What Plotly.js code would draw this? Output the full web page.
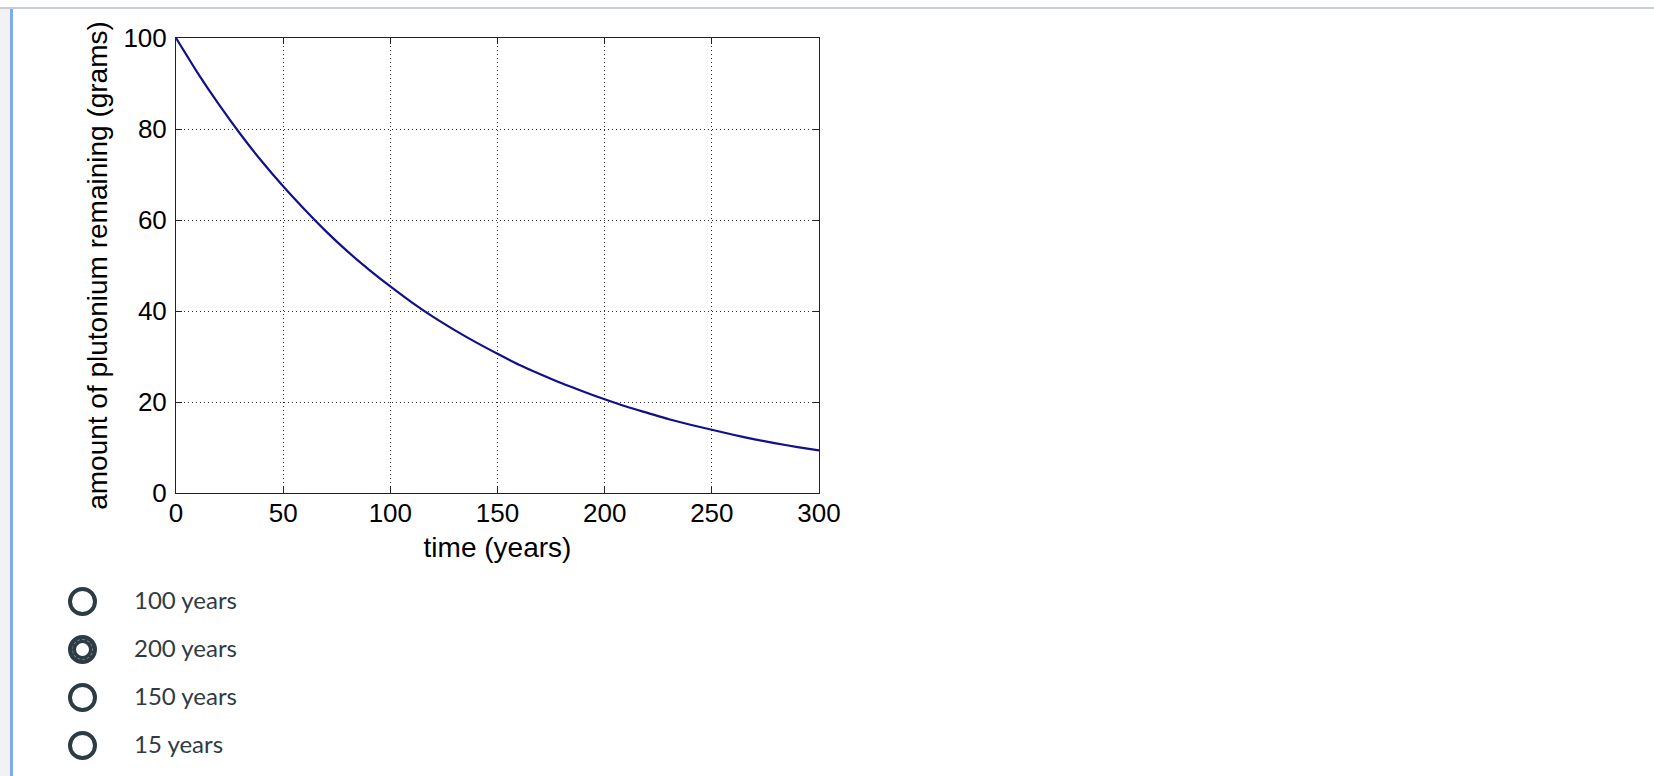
<!DOCTYPE html>
<html>
<head>
<meta charset="utf-8">
<script src="https://cdn.plot.ly/plotly-3.0.1.min.js"></script>
<style>
  html, body { margin: 0; padding: 0; background: #fff; }
  body { width: 1654px; height: 776px; position: relative; overflow: hidden; }
  #leftpanel { position: absolute; left: 0; top: 9px; width: 10px; height: 767px; background: #f2f2f2; }
  #leftline { position: absolute; left: 10px; top: 9px; width: 3px; height: 767px; background: #7fa9f2; }
  #topline { position: absolute; left: 0; top: 7px; width: 1654px; height: 2px; background: #c8cdd1; }
  #chart { position: absolute; left: 0; top: 0; width: 1654px; height: 776px; }
  .radio { position: absolute; left: 68px; width: 21px; height: 21px; border: 4px solid #2d3b45; border-radius: 50%; box-sizing: content-box; }
  .radio.sel { background: #2d3b45; }
  .radio.sel::after { content: ""; position: absolute; left: 4px; top: 4px; width: 13px; height: 13px; border-radius: 50%; background: #fff; }
  .radio.sel::before { content: ""; position: absolute; left: 0px; top: 0px; width: 19px; height: 19px; border-radius: 50%; border: 1px dashed #7d878e; }
  .lbl { position: absolute; left: 134px; font-family: Lato, "Noto Sans", sans-serif; font-size: 24px; color: #2d3b45; white-space: nowrap; }
</style>
</head>
<body>
<div id="topline"></div>
<div id="leftpanel"></div>
<div id="leftline"></div>
<div id="chart"></div>
<div id="options"></div>
<script>
// Data (years, grams remaining)
const years = [0, 10, 20, 30, 40, 50, 60, 70, 80, 90, 100, 110, 120, 130, 140, 150,
               160, 170, 180, 190, 200, 210, 220, 230, 240, 250, 260, 270, 280, 290, 300];
const grams = [100, 92.4, 85.4, 78.9, 72.9, 67.4, 62.3, 57.5, 53.1, 49.1, 45.4, 41.9, 38.7, 35.8, 33.1, 30.6,
               28.2, 26.1, 24.1, 22.3, 20.6, 19.0, 17.6, 16.2, 15.0, 13.9, 12.8, 11.8, 10.9, 10.1, 9.35];
const xTicks = [0, 50, 100, 150, 200, 250, 300];
const yTicks = [0, 20, 40, 60, 80, 100];
const xTitle = "time (years)";
const yTitle = "amount of plutonium remaining (grams)";
const answers = ["100 years", "200 years", "150 years", "15 years"];
const selectedAnswer = "200 years";

const family = '"Liberation Sans", Arial, Helvetica, sans-serif';
const tickFont = { family: family, size: 26, color: '#000' };
const titleFont = { family: family, size: 28, color: '#000' };
const axisCommon = {
  showline: true, linecolor: '#222', linewidth: 1, mirror: 'ticks',
  ticks: 'inside', ticklen: 6, tickcolor: '#222', tickwidth: 1,
  showgrid: true, gridcolor: '#333', gridwidth: 1, griddash: '1px,3px',
  zeroline: false, tickfont: tickFont, automargin: false, fixedrange: true
};

const trace = {
  x: years, y: grams, type: 'scatter', mode: 'lines',
  line: { color: '#10108a', width: 2.2, shape: 'spline', smoothing: 0.6 },
  hoverinfo: 'skip'
};

const layout = {
  width: 1654, height: 776,
  margin: { l: 176, r: 835, t: 38, b: 283, pad: 0 },
  paper_bgcolor: 'rgba(0,0,0,0)', plot_bgcolor: '#fff',
  showlegend: false,
  font: tickFont,
  xaxis: Object.assign({}, axisCommon, {
    range: [0, 300], tickvals: xTicks, ticktext: xTicks.map(String),
    ticklabelstandoff: -3,
    title: { text: xTitle, font: titleFont, standoff: 10 }
  }),
  yaxis: Object.assign({}, axisCommon, {
    range: [0, 100], tickvals: yTicks, ticktext: yTicks.map(String),
    ticklabelstandoff: 3,
    title: { text: yTitle, font: titleFont, standoff: 7 }
  })
};

Plotly.newPlot('chart', [trace], layout, { displayModeBar: false, staticPlot: true });

const opts = document.getElementById('options');
answers.forEach((a, i) => {
  const top = 578 + i * 48;
  const r = document.createElement('div');
  r.className = 'radio' + (a === selectedAnswer ? ' sel' : '');
  r.style.top = (top + 9) + 'px';
  opts.appendChild(r);
  const t = document.createElement('div');
  t.className = 'lbl';
  t.textContent = a;
  t.style.top = (top + 7) + 'px';
  opts.appendChild(t);
});
</script>
</body>
</html>
